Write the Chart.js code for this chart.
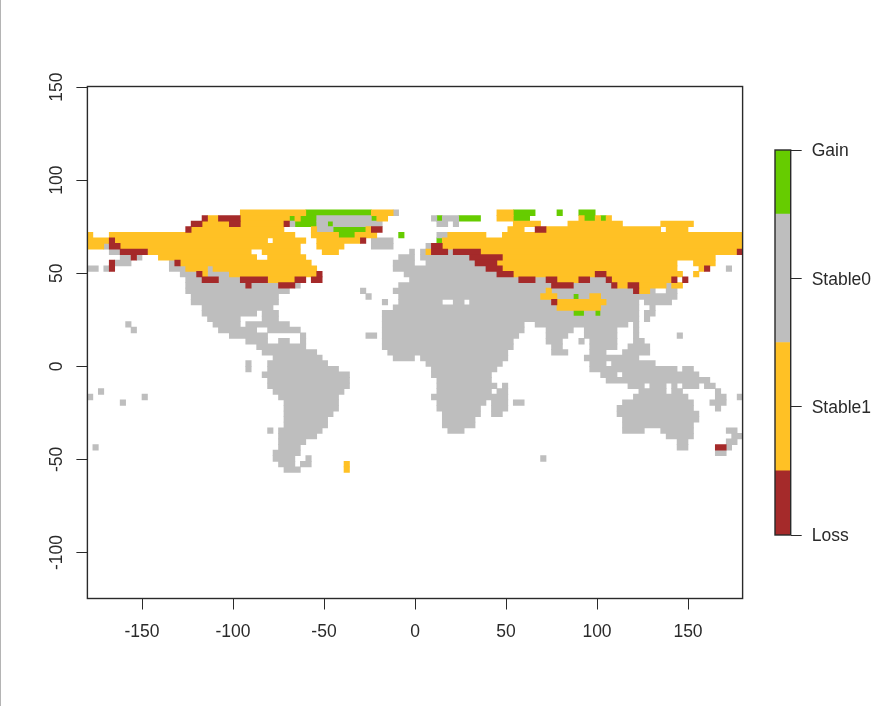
<!DOCTYPE html>
<html>
<head>
<meta charset="utf-8">
<style>
html,body{margin:0;padding:0;background:#fff;width:885px;height:706px;overflow:hidden}
#edge{position:absolute;left:0;top:0;width:1px;height:706px;background:#b4b4b4}
#map{position:absolute;left:0;top:0}
#key{position:absolute;left:740px;top:120px}
</style>
<script src="https://cdn.jsdelivr.net/npm/chart.js@4"></script>
</head>
<body>
<div id="edge"></div>
<canvas id="map" width="885" height="706"></canvas>
<canvas id="key" width="145" height="440"></canvas>
<script>
const classNames = ['Loss','Stable1','Stable0','Gain'];
const classValues = [1,2,3,4];
const classBands = [[1,1.5],[1.5,2.5],[2.5,3.5],[3.5,4]];
const classColors = ['#A52A2A','#FFC125','#BEBEBE','#66CC00'];
const xTicks = [-150,-100,-50,0,50,100,150];
const yTicks = [-100,-50,0,50,100,150];

// Raster runs: [grid row, first column, last column]. Grid cells are 3 degrees.
const lossRuns = [
[1,21,21],[1,24,27],[2,19,20],[2,26,27],[2,36,36],[3,18,18],[3,52,53],[3,82,83],
[5,4,4],[5,50,50],[6,4,5],[6,63,64],[7,6,10],[7,63,65],[7,67,71],[7,119,119],
[8,8,8],[8,70,75],[9,4,4],[9,16,16],[9,71,74],[10,4,4],[10,73,75],[10,113,113],
[11,20,20],[11,42,42],[11,75,77],[11,93,94],
[12,21,23],[12,28,32],[12,38,39],[12,41,42],[12,79,81],[12,84,85],[12,90,91],[12,95,95],[12,107,107],[12,109,109],
[13,29,29],[13,35,37],[13,85,88],[13,96,96],[13,99,100],[14,100,100],[16,85,85],[42,115,116]
];
const gainRuns = [
[0,40,51],[0,78,81],[0,86,86],[0,90,92],
[1,37,37],[1,39,41],[1,52,52],[1,64,64],[1,68,71],[1,78,80],[1,91,92],[1,94,94],
[2,38,41],[2,44,44],[3,45,50],[4,46,48],[4,57,57],[5,64,64],[15,89,89],[18,89,90],[18,93,93]
];
const stable1Runs = [
[0,28,39],[0,52,55],[0,75,77],
[1,22,23],[1,28,36],[1,38,38],[1,53,54],[1,75,77],[1,90,90],[1,93,93],[1,95,95],
[2,21,25],[2,28,35],[2,78,82],[2,88,97],[2,105,110],
[3,19,35],[3,41,41],[3,51,51],[3,77,79],[3,84,104],[3,106,109],
[4,0,0],[4,4,37],[4,41,45],[4,49,52],[4,66,72],[4,76,119],
[5,0,3],[5,5,32],[5,34,39],[5,42,49],[5,65,119],
[6,0,2],[6,6,38],[6,42,46],[6,65,119],
[7,11,29],[7,32,38],[7,43,45],[7,62,62],[7,72,118],
[8,13,30],[8,33,39],[8,76,114],
[9,17,40],[9,75,107],[9,111,114],
[10,18,21],[10,23,41],[10,76,107],[10,112,112],
[11,21,21],[11,26,41],[11,78,92],[11,95,108],[11,111,111],
[12,33,37],[12,86,89],[12,96,106],
[13,97,98],[13,101,105],[13,107,108],
[14,84,84],[14,101,102],[15,83,85],[15,92,93],[16,86,94],[17,86,93],[45,47,47],[46,47,47]
];
const stable0Runs = [
[0,56,56],[1,42,51],[1,63,63],[1,65,67],
[2,37,37],[2,42,43],[2,45,53],[2,64,65],[2,67,67],
[3,42,44],[4,64,65],[5,52,55],[6,3,3],[6,52,55],[6,62,62],
[7,4,5],[7,59,59],[7,61,61],[7,66,66],
[8,6,7],[8,9,9],[8,57,59],[8,61,69],
[9,5,7],[9,15,15],[9,56,59],[9,62,70],
[10,0,1],[10,3,3],[10,15,17],[10,22,22],[10,56,72],[10,117,117],
[11,17,19],[11,22,25],[11,58,74],
[12,18,20],[12,24,27],[12,59,78],[12,82,83],[12,92,94],
[13,18,28],[13,30,34],[13,38,38],[13,57,84],[13,89,95],[13,106,106],
[14,18,36],[14,50,50],[14,56,83],[14,85,99],[14,103,103],[14,106,107],
[15,19,34],[15,51,51],[15,57,82],[15,86,88],[15,90,91],[15,94,107],
[16,19,34],[16,54,54],[16,57,64],[16,67,68],[16,70,84],[16,95,100],[16,102,106],
[17,21,33],[17,56,85],[17,94,100],[17,103,103],
[18,21,30],[18,32,34],[18,54,88],[18,91,92],[18,94,100],[18,102,103],
[19,22,27],[19,32,34],[19,54,100],[19,102,102],
[20,7,7],[20,23,27],[20,29,36],[20,54,79],[20,82,98],[20,100,100],
[21,8,8],[21,24,30],[21,33,38],[21,54,79],[21,84,88],[21,91,96],[21,100,100],
[22,26,32],[22,39,39],[22,51,52],[22,54,78],[22,84,87],[22,91,96],[22,100,100],[22,108,108],
[23,29,32],[23,35,36],[23,39,39],[23,54,77],[23,84,86],[23,90,90],[23,92,96],[23,100,101],
[24,31,39],[24,54,77],[24,85,86],[24,92,96],[24,99,102],
[25,32,41],[25,55,76],[25,85,87],[25,92,94],[25,98,102],
[26,34,42],[26,56,59],[26,61,76],[26,91,100],
[27,29,29],[27,33,43],[27,62,75],[27,92,94],[27,96,103],
[28,29,29],[28,33,45],[28,63,74],[28,92,107],[28,109,110],
[29,32,47],[29,63,73],[29,94,96],[29,98,111],
[30,33,47],[30,64,73],[30,95,113],
[31,33,47],[31,64,74],[31,76,76],[31,99,101],[31,103,105],[31,107,107],[31,109,111],[31,113,114],
[32,2,2],[32,34,46],[32,64,73],[32,75,76],[32,101,105],[32,107,108],[32,115,115],
[33,0,0],[33,10,10],[33,35,45],[33,63,76],[33,100,109],[33,115,116],[33,119,119],
[34,6,6],[34,36,45],[34,64,72],[34,74,76],[34,78,79],[34,98,110],[34,114,116],
[35,36,45],[35,64,71],[35,74,76],[35,97,110],[35,115,115],
[36,36,44],[36,65,71],[36,74,75],[36,97,111],
[37,36,43],[37,65,70],[37,98,111],
[38,36,43],[38,65,70],[38,98,110],
[39,33,33],[39,35,42],[39,66,68],[39,98,101],[39,105,110],[39,117,118],
[40,35,41],[40,106,110],[40,118,119],
[41,35,39],[41,108,109],[41,117,118],
[42,1,1],[42,35,38],[42,108,109],[42,117,117],
[43,34,38],[43,115,116],
[44,34,37],[44,40,40],[44,83,83],
[45,35,37],[45,39,40],
[46,36,38]
];

const cellDeg = 3, westLon = -180, northLat = 84;
const toBars = runs => runs.map(([r,a,b]) => ({
  x:[westLon + a*cellDeg, westLon + (b+1)*cellDeg],
  y:northLat - (r+0.5)*cellDeg
}));
const runSets = [lossRuns, stable1Runs, stable0Runs, gainRuns];
const inkColor = '#2a2a2a', axisFont = {family:'"Liberation Sans", Arial, sans-serif', size:17.5};

const boxPlugin = {
  id:'box',
  afterDraw(c){
    const a = c.chartArea, g = c.ctx;
    g.save(); g.strokeStyle = inkColor; g.lineWidth = 1.4;
    g.strokeRect(a.left, a.top, a.right-a.left, a.bottom-a.top);
    g.restore();
  }
};

new Chart(document.getElementById('map'), {
  type:'bar',
  data:{datasets: runSets.map((runs,i) => ({
    label:classNames[i], data:toBars(runs), backgroundColor:classColors[i],
    borderWidth:0, barThickness:5.7, grouped:false
  }))},
  options:{
    indexAxis:'y', responsive:false, animation:false,
    devicePixelRatio:1,
    layout:{padding:{left:0,top:86.5,right:142.4,bottom:0}},
    plugins:{legend:{display:false},tooltip:{enabled:false}},
    scales:{
      x:{type:'linear',min:-180,max:180,
        afterBuildTicks(s){s.ticks = xTicks.map(value=>({value}));},
        afterFit(s){s.height = 107.5;},
        grid:{drawOnChartArea:false,drawTicks:true,tickLength:11,color:inkColor,lineWidth:1},
        border:{display:false},
        ticks:{font:axisFont,color:inkColor,padding:12,maxRotation:0,minRotation:0,autoSkip:false}
      },
      y:{type:'linear',min:-124.7,max:150.3,offset:false,
        afterBuildTicks(s){s.ticks = yTicks.map(value=>({value}));},
        afterFit(s){s.width = 87.4;},
        grid:{offset:false,drawOnChartArea:false,drawTicks:true,tickLength:11,color:inkColor,lineWidth:1},
        border:{display:false},
        ticks:{font:axisFont,color:inkColor,padding:2,minRotation:90,maxRotation:90,autoSkip:false,crossAlign:'center',align:'center'}
      }
    }
  },
  plugins:[boxPlugin]
});

new Chart(document.getElementById('key'), {
  type:'bar',
  data:{labels:['class'], datasets: classBands.map((band,i)=>({
    label:classNames[i], data:[band], backgroundColor:classColors[i],
    borderWidth:0, categoryPercentage:1, barPercentage:1, grouped:false
  }))},
  options:{
    responsive:false, animation:false, devicePixelRatio:1,
    layout:{padding:{left:35,top:30,right:0,bottom:25}},
    plugins:{legend:{display:false},tooltip:{enabled:false}},
    scales:{
      x:{display:false},
      y:{type:'linear',position:'right',min:1,max:4,
        afterBuildTicks(s){s.ticks = classValues.map(value=>({value}));},
        afterFit(s){s.width = 94.3;},
        grid:{drawOnChartArea:false,drawTicks:true,tickLength:11,color:inkColor,lineWidth:1},
        border:{display:false},
        ticks:{font:axisFont,color:inkColor,padding:10,autoSkip:false,labelOffset:1.5,
          callback(v){return classNames[classValues.indexOf(v)];}}
      }
    }
  },
  plugins:[boxPlugin]
});
</script>
</body>
</html>
